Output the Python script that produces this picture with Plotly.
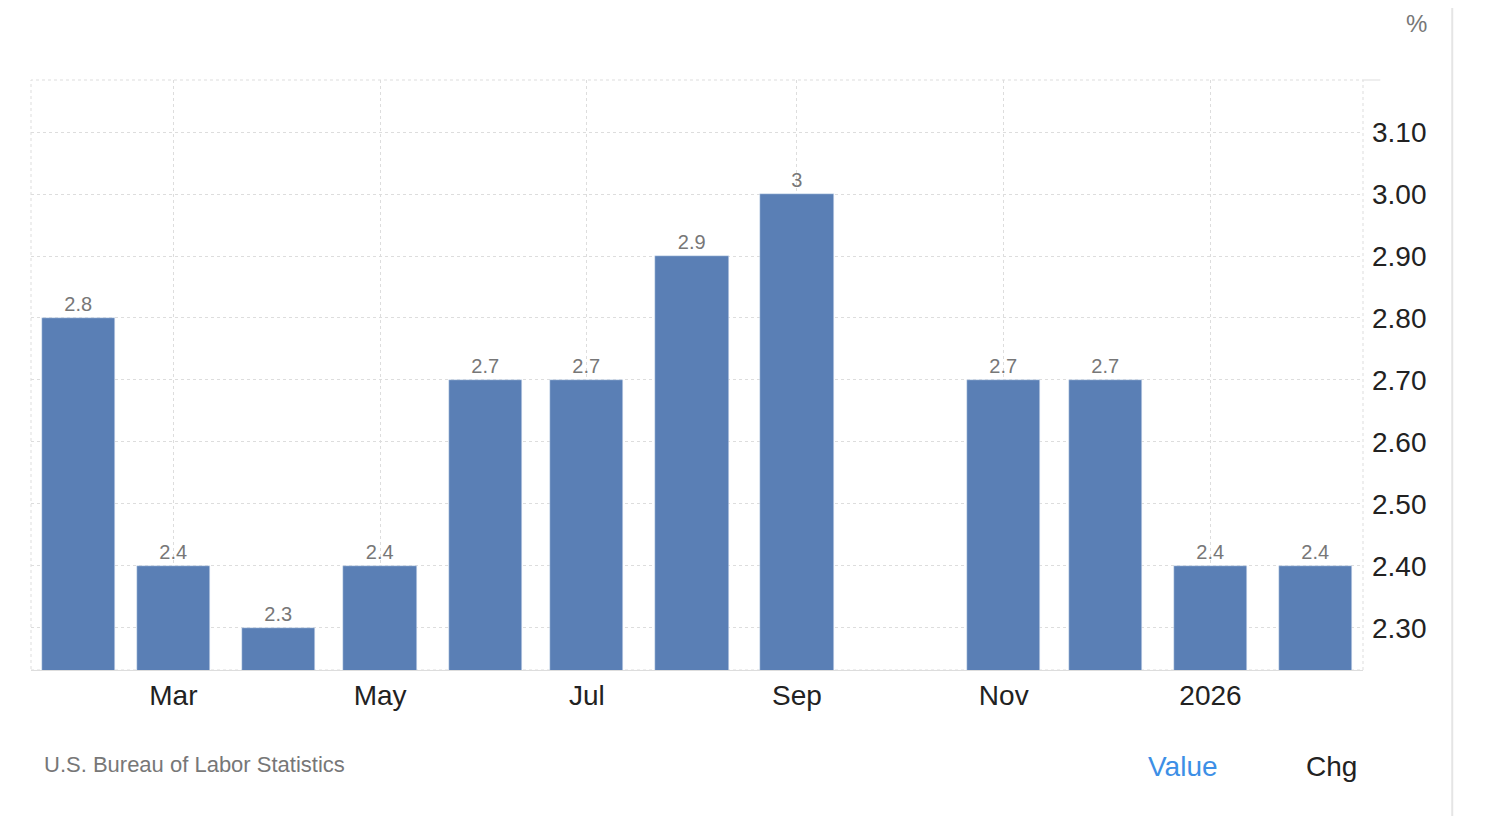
import plotly.graph_objects as go

months = ["2025-02-01", "2025-03-01", "2025-04-01", "2025-05-01", "2025-06-01", "2025-07-01",
          "2025-08-01", "2025-09-01", "2025-11-01", "2025-12-01", "2026-01-01", "2026-02-01"]
values = [2.8, 2.4, 2.3, 2.4, 2.7, 2.7, 2.9, 3.0, 2.7, 2.7, 2.4, 2.4]
labels = ["2.8", "2.4", "2.3", "2.4", "2.7", "2.7", "2.9", "3", "2.7", "2.7", "2.4", "2.4"]
tick_dates = ["2025-03-01", "2025-05-01", "2025-07-01", "2025-09-01", "2025-11-01", "2026-01-01"]
tick_text = ["Mar", "May", "Jul", "Sep", "Nov", "2026"]
y_ticks = [2.3, 2.4, 2.5, 2.6, 2.7, 2.8, 2.9, 3.0, 3.1]

day_ms = 86400000
fig = go.Figure(go.Bar(
    x=months, y=values, text=labels, textposition="outside",
    textfont=dict(color="#777", size=20), cliponaxis=False,
    marker_color="#5a7fb5", width=21.6 * day_ms,
))

fig.update_layout(
    width=1488, height=816, paper_bgcolor="white", plot_bgcolor="white",
    margin=dict(l=23, r=133, t=72, b=154),
    font=dict(family="Liberation Sans, Arial", color="#222"),
    showlegend=False, bargap=0,
)
fig.update_xaxes(
    type="date", range=["2025-01-18", "2026-02-15"],
    tickvals=tick_dates, ticktext=tick_text, tickfont=dict(size=28),
    showgrid=True, gridcolor="#ddd", griddash="dot",
    showline=True, linecolor="#ddd", ticks="", mirror=False,
)
fig.update_yaxes(
    side="right", range=[2.232, 3.184], tickvals=y_ticks,
    tickformat=".2f", tickfont=dict(size=28),
    showgrid=True, gridcolor="#ddd", griddash="dot", zeroline=False,
    ticks="", ticklabelstandoff=8,
)
# dotted border of the plot area
fig.add_shape(type="rect", xref="paper", yref="paper", x0=0, x1=1, y0=0, y1=1,
              line=dict(color="#ddd", width=1, dash="dot"), layer="below")
fig.add_shape(type="line", xref="paper", yref="paper", x0=1.0, x1=1.013, y0=1, y1=1,
              line=dict(color="#ddd", width=1))
fig.add_shape(type="line", xref="paper", yref="paper", x0=1.067, x1=1.067, y0=-0.27, y1=1.13,
              line=dict(color="#e5e5e5", width=2))

fig.add_annotation(text="%", xref="paper", yref="paper", x=1.04, y=1.07, showarrow=False,
                   font=dict(size=24, color="#777"), xanchor="center", yanchor="bottom")
fig.add_annotation(text="U.S. Bureau of Labor Statistics", xref="paper", yref="paper",
                   x=0.008, y=-0.16, showarrow=False, xanchor="left", yanchor="middle",
                   font=dict(size=22, color="#777"))
fig.add_annotation(text="Value", xref="paper", yref="paper", x=0.865, y=-0.163,
                   showarrow=False, xanchor="center", yanchor="middle",
                   font=dict(size=28, color="#3d8fe6"))
fig.add_annotation(text="Chg", xref="paper", yref="paper", x=0.976, y=-0.163,
                   showarrow=False, xanchor="center", yanchor="middle",
                   font=dict(size=28, color="#222"))

fig.write_html("out.html")
